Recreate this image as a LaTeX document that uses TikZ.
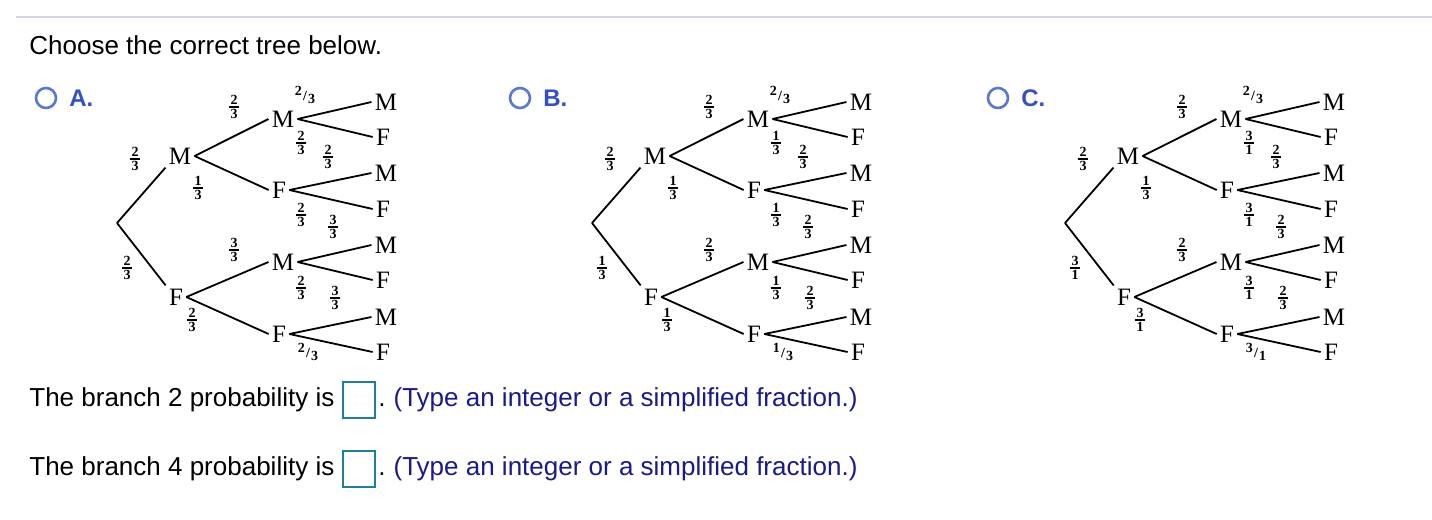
\documentclass[tikz,border=0pt]{standalone}
\usepackage{fontspec}
\setmainfont{Liberation Sans}
\newfontfamily\tms{Liberation Serif}
\definecolor{rule}{HTML}{D2D5E3}
\definecolor{radio}{HTML}{5A78D0}
\definecolor{lab}{HTML}{3450C8}
\definecolor{boxc}{HTML}{1C7F9E}
\definecolor{navy}{HTML}{1A1A8A}
\newcommand\fr[2]{\vbox{\hbox to 5.2pt{\hss#1\hss}\kern0.7pt\hrule height .75pt\kern0.7pt\hbox to 5.2pt{\hss#2\hss}}}
\newcommand\sfr[2]{\raisebox{2.4pt}{#1}\kern.6pt/\kern.6pt\raisebox{-1.4pt}{#2}}
\tikzset{
 lett/.style={font=\tms\fontsize{12.5}{14}\selectfont, inner sep=1.5pt},
 prob/.style={font=\tms\bfseries\fontsize{7}{8}\selectfont, inner sep=0pt},
 br/.style={line width=0.9pt},
 maintxt/.style={font=\fontsize{13}{15}\selectfont, anchor=west, inner sep=0pt},
 optlab/.style={font=\bfseries\fontsize{12}{14}\selectfont, text=lab, anchor=west, inner sep=0pt},
}
\newcommand\drawtree{%
 \coordinate (r) at (117,223);
 \node[lett] (M1) at (180,156) {M};
 \node[lett] (F1) at (176,297) {F};
 \node[lett] (M2) at (283,119) {M};
 \node[lett] (F2) at (279,190) {F};
 \node[lett] (M3) at (283,262) {M};
 \node[lett] (F3) at (279,334) {F};
 \node[lett] (l1) at (386,102) {M};
 \node[lett] (l2) at (383,137) {F};
 \node[lett] (l3) at (386,173) {M};
 \node[lett] (l4) at (383,209) {F};
 \node[lett] (l5) at (386,245) {M};
 \node[lett] (l6) at (383,280) {F};
 \node[lett] (l7) at (386,317) {M};
 \node[lett] (l8) at (383,352) {F};
 \draw[br] (r) -- (M1.south west);
 \draw[br] (r) -- (F1.north west);
 \draw[br] (M1.east) -- (M2.west);
 \draw[br] (M1.east) -- (F2.west);
 \draw[br] (F1.east) -- (M3.west);
 \draw[br] (F1.east) -- (F3.west);
 \draw[br] (M2.east) -- (l1.west);
 \draw[br] (M2.east) -- (l2.west);
 \draw[br] (F2.east) -- (l3.west);
 \draw[br] (F2.east) -- (l4.west);
 \draw[br] (M3.east) -- (l5.west);
 \draw[br] (M3.east) -- (l6.west);
 \draw[br] (F3.east) -- (l7.west);
 \draw[br] (F3.east) -- (l8.west);
 \node[prob] (p1) at (135,159) {\La};
 \node[prob] (p2) at (127,268) {\Lb};
 \node[prob] (p3) at (234,107) {\Lc};
 \node[prob] (p4) at (198,188) {\Ld};
 \node[prob] (p5) at (234,250) {\Le};
 \node[prob] (p6) at (192,320) {\Lf};
 \node[prob] (p7) at (305,95) {\Lg};
 \node[prob] (p8) at (301,143) {\Lh};
 \node[prob] (p9) at (328,157) {\Li};
 \node[prob] (p10) at (301,215) {\Lj};
 \node[prob] (p11) at (333,227) {\Lk};
 \node[prob] (p12) at (301,288) {\Ll};
 \node[prob] (p13) at (335,298) {\Lm};
 \node[prob] (p14) at (308,352) {\Ln};
}
\begin{document}
\begin{tikzpicture}[x=0.5pt,y=-0.5pt]
\useasboundingbox (0,0) rectangle (1432,520);
\fill[white] (0,0) rectangle (1432,520);
\draw[rule, line width=1pt] (16,17) -- (1432,17);
\node[maintxt] (q) at (29,45) {Choose the correct tree below.};
% options
\draw[radio, line width=1.3pt] (46,98) circle (10);
\node[optlab] (oa) at (69,98) {A.};
\draw[radio, line width=1.3pt] (520,98) circle (10);
\node[optlab] (ob) at (543,98) {B.};
\draw[radio, line width=1.3pt] (998,98) circle (10);
\node[optlab] (oc) at (1021,98) {C.};
% tree A
\begin{scope}[name prefix=A-]
\def\La{\fr23}\def\Lb{\fr23}\def\Lc{\fr23}\def\Ld{\fr13}\def\Le{\fr33}\def\Lf{\fr23}
\def\Lg{\sfr23}\def\Lh{\fr23}\def\Li{\fr23}\def\Lj{\fr23}\def\Lk{\fr33}\def\Ll{\fr23}\def\Lm{\fr33}\def\Ln{\sfr23}
\drawtree
\end{scope}
\begin{scope}[name prefix=B-, shift={(475,0)}]
\def\La{\fr23}\def\Lb{\fr13}\def\Lc{\fr23}\def\Ld{\fr13}\def\Le{\fr23}\def\Lf{\fr13}
\def\Lg{\sfr23}\def\Lh{\fr13}\def\Li{\fr23}\def\Lj{\fr13}\def\Lk{\fr23}\def\Ll{\fr13}\def\Lm{\fr23}\def\Ln{\sfr13}
\drawtree
\end{scope}
\begin{scope}[name prefix=C-, shift={(948,0)}]
\def\La{\fr23}\def\Lb{\fr31}\def\Lc{\fr23}\def\Ld{\fr13}\def\Le{\fr23}\def\Lf{\fr31}
\def\Lg{\sfr23}\def\Lh{\fr31}\def\Li{\fr23}\def\Lj{\fr31}\def\Lk{\fr23}\def\Ll{\fr31}\def\Lm{\fr23}\def\Ln{\sfr31}
\drawtree
\end{scope}
% answers
\node[maintxt] (t1) at (29,400) {The branch 2 probability is};
\draw[boxc, line width=0.9pt] (343,382) rectangle (375,418);
\node[maintxt] (h1) at (378,400) {.\hspace{4pt}\textcolor{navy}{(Type an integer or a simplified fraction.)}};
\node[maintxt] (t2) at (29,469) {The branch 4 probability is};
\draw[boxc, line width=0.9pt] (343,451) rectangle (375,487);
\node[maintxt] (h2) at (378,469) {.\hspace{4pt}\textcolor{navy}{(Type an integer or a simplified fraction.)}};
\end{tikzpicture}
\end{document}
